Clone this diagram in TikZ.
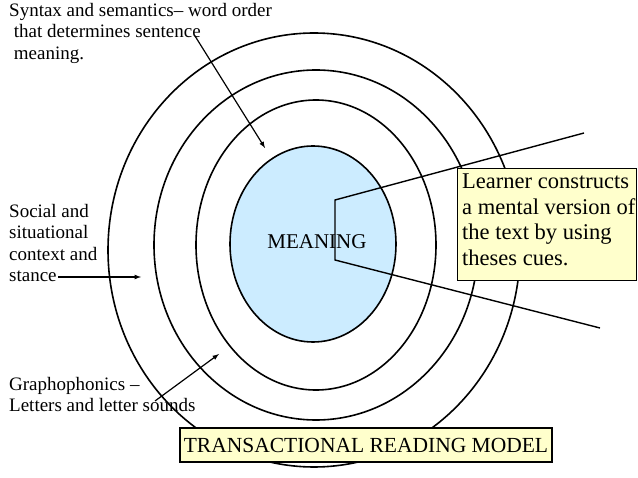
\documentclass[tikz,border=0pt]{standalone}
\usepackage{fontspec}
\setmainfont{Liberation Serif}
\begin{document}
\begin{tikzpicture}[x=1pt,y=-1pt,
  ring/.style={draw=black,line width=1.6pt},
  lbl/.style={font=\fontsize{19}{21.5}\selectfont,align=left,inner sep=0pt},
  arr/.style={->,>=latex,line width=1.2pt}]
\useasboundingbox (0,0) rectangle (638,478);
\draw[ring] (314,250) ellipse (206 and 217);
\draw[ring] (316,245) ellipse (162 and 175);
\draw[ring] (316,245) ellipse (120 and 145);
\draw[ring,fill={rgb,255:red,204;green,236;blue,255}] (313,244) ellipse (83 and 98);
\node[font=\fontsize{21}{24}\selectfont] (m) at (317,242) {MEANING};
\coordinate (a) at (335,200);
\coordinate (b) at (335,260);
\coordinate (c) at (584,133);
\coordinate (d) at (600,328);
\draw[line width=1.4pt] (c) -- (a) -- (b) -- (d);
\node[draw=black,line width=1.4pt,fill={rgb,255:red,255;green,255;blue,204},anchor=north west,minimum width=179pt,minimum height=112pt,inner sep=0pt] (box) at (457,168) {};
\node[font=\fontsize{22.5}{25.5}\selectfont,align=left,anchor=north west,inner sep=0pt] (bt) at (462,174) {Learner constructs\\a mental version of\\the text by using\\theses cues.};
\node[draw=black,line width=1.4pt,fill={rgb,255:red,255;green,255;blue,204},font=\fontsize{21.5}{24}\selectfont,minimum width=372pt,minimum height=34pt,inner sep=0pt] (title) at (366,445) {TRANSACTIONAL READING MODEL};
\node[lbl,anchor=north west] (syn) at (9,3) {Syntax and semantics-- word order\\\ that determines sentence\\\ meaning.};
\node[lbl,anchor=north west] (soc) at (9,204) {Social and\\situational\\context and\\stance};
\node[lbl,anchor=north west] (gra) at (9,377) {Graphophonics --\\Letters and letter sounds};
\coordinate (s1) at (195,36);
\coordinate (s2) at (265,148);
\coordinate (c1) at (58,277);
\coordinate (c2) at (141,277);
\coordinate (g1) at (155,401);
\coordinate (g2) at (219,354);
\draw[arr] (s1) -- (s2);
\draw[arr] (c1) -- (c2);
\draw[arr] (g1) -- (g2);
\end{tikzpicture}
\end{document}
